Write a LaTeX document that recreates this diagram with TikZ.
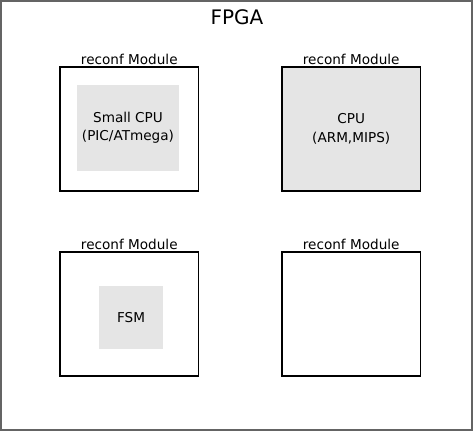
\documentclass[tikz,border=0pt]{standalone}
\usepackage{fontspec}
\setmainfont{DejaVu Sans}
\definecolor{corefill}{RGB}{229,229,229}
\definecolor{outerline}{RGB}{100,100,100}
\newcommand{\txtfont}{\fontsize{13.6}{18.4}\selectfont}
\begin{document}
\begin{tikzpicture}[x=1pt,y=-1pt,
  module/.style={draw=black,line width=1.8pt,minimum width=138.5pt,minimum height=124.3pt,inner sep=0pt},
  core/.style={fill=corefill,draw=none,inner sep=0pt,align=center,font=\txtfont},
  lbl/.style={font=\txtfont,inner sep=0pt,anchor=base}]
\useasboundingbox (0,0) rectangle (474,431);
\draw[outerline,line width=2pt] (1,1) rectangle (471.5,429.5);
\node[font=\fontsize{20}{24}\selectfont,inner sep=0pt,anchor=base] (title) at (237,24) {FPGA};
% modules
\node[module] (m1) at (129.3,128.8) {};
\node[module,fill=corefill,align=center,font=\txtfont] (m2) at (351.2,128.8) {CPU\\(ARM,MIPS)};
\node[module] (m3) at (129.3,314.2) {};
\node[module] (m4) at (351.2,314.2) {};
% labels
\node[lbl] (l1) at (129.3,64.3) {reconf Module};
\node[lbl] (l2) at (351.2,64.3) {reconf Module};
\node[lbl] (l3) at (129.3,249.3) {reconf Module};
\node[lbl] (l4) at (351.2,249.3) {reconf Module};
% cores
\node[core,minimum width=102pt,minimum height=86pt] (c1) at (128,128) {Small CPU\\(PIC/ATmega)};
\node[core,minimum width=64pt,minimum height=63pt] (c3) at (131,317.5) {FSM};
\end{tikzpicture}
\end{document}
